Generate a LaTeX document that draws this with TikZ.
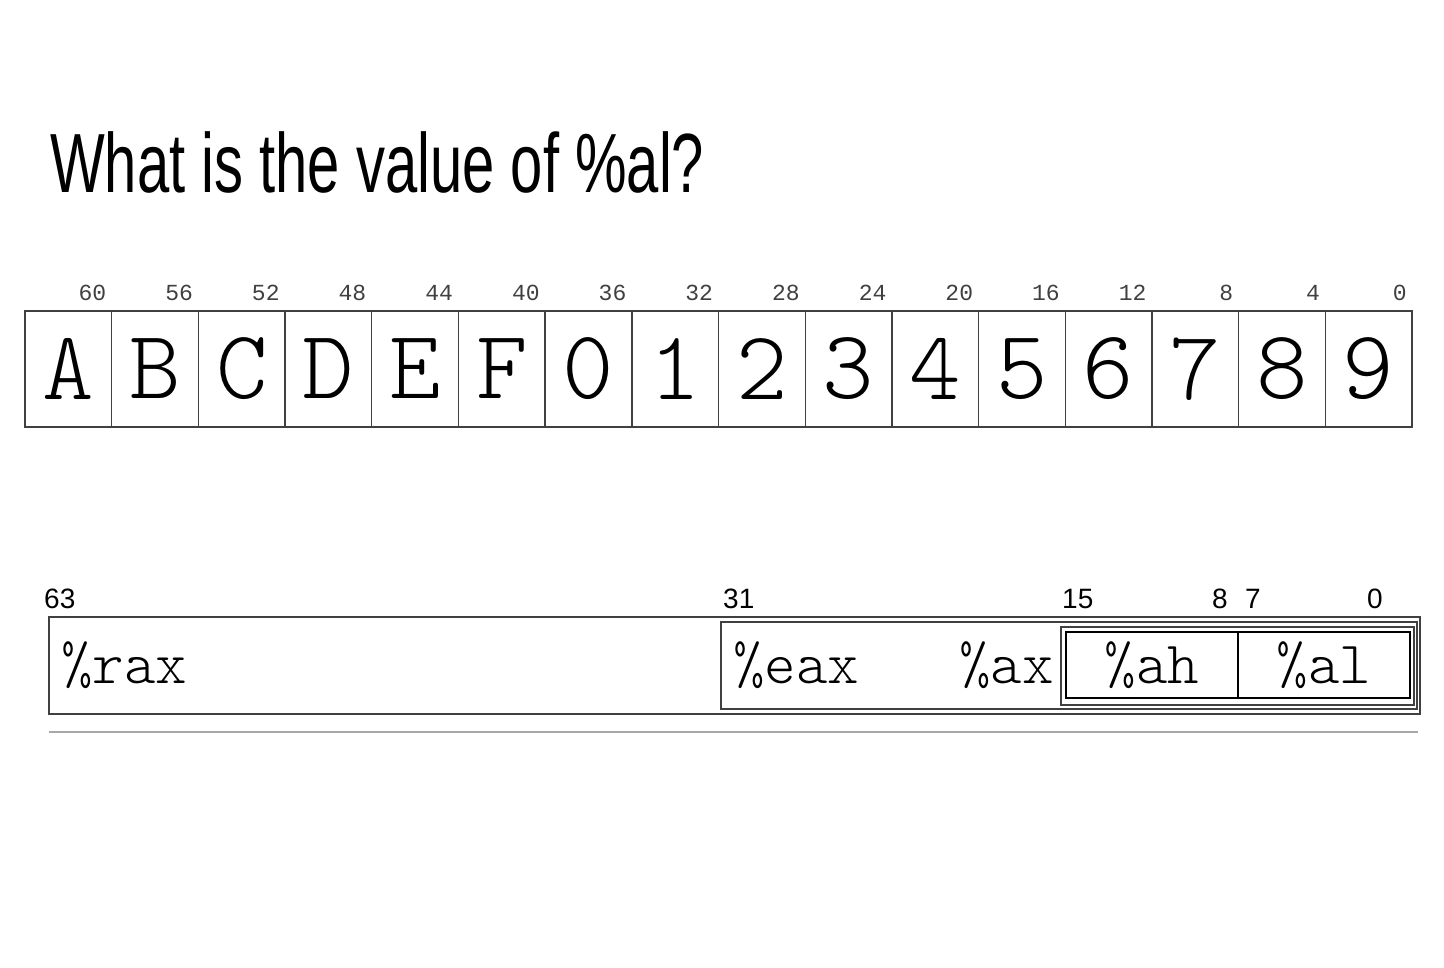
\documentclass[tikz,border=0pt]{standalone}
\usepackage{fontspec}
\usepackage{graphicx}
\setmainfont{Liberation Sans}
\newfontfamily\numfont{Liberation Mono}
\newfontfamily\typefont{lmmonolt10-regular.otf}
\usetikzlibrary{calc}
\usetikzlibrary{positioning}

\definecolor{linegray}{HTML}{404040}
\definecolor{rulegray}{HTML}{A8A8A8}

\tikzset{
  cell/.style={draw=linegray, line width=1.4pt, minimum width=86.69pt, minimum height=116pt, inner sep=0pt, font=\typefont\fontsize{98}{98}\selectfont},
  bitnum/.style={text=linegray, inner sep=0pt, font=\numfont\fontsize{23}{23}\selectfont},
  regbox/.style={draw=linegray, inner sep=0pt},
  regname/.style={inner sep=0pt, font=\typefont\fontsize{60}{60}\selectfont},
  regbit/.style={inner sep=0pt, anchor=base west, font=\fontsize{28}{28}\selectfont}
}

\begin{document}
\begin{tikzpicture}[x=1pt,y=-1pt]
    \useasboundingbox (0,0) rectangle (1444,968);

    % Title
    \node[anchor=base west, inner sep=0pt, font=\fontsize{84}{84}\selectfont] (title) at (50,193) {\scalebox{0.69}[1]{What is the value of \%al?}};

    % Nibbles of the value
    \foreach \v [count=\i from 0] in {A,B,C,D,E,F,0,1,2,3,4,5,6,7,8,9} {
        \pgfmathtruncatemacro{\bit}{60-4*\i}
        \node[cell] (c\i) at ({25+86.69*(\i+0.5)},369) {\v};
        \node[bitnum, anchor=base east] (n\i) at ($(c\i.north east)+(-6,-10)$) {\bit};
    }

    % Register boxes
    \node[regbox, line width=2.6pt, minimum width=1371pt, minimum height=97pt] (rax) at (734.5,665.5) {};
    \node[regbox, line width=2pt, minimum width=696pt, minimum height=87pt] (eax) at (1069,665.5) {};
    \node[regbox, line width=2pt, minimum width=353pt, minimum height=78pt] (ax) at (1237.5,666) {};
    \node[regbox, regname, draw=black, line width=2.4pt, minimum width=172pt, minimum height=66pt] (ah) at (1152,665) {\%ah};
    \node[regbox, regname, draw=black, line width=2.4pt, minimum width=172pt, minimum height=66pt] (al) at (1324,665) {\%al};

    % Register names
    \node[regname, anchor=base west] (trax) at (61,683) {\%rax};
    \node[regname, anchor=base west] (teax) at (733,683) {\%eax};
    \node[regname, anchor=base east] (tax) at (1054,683) {\%ax};

    % Bit positions
    \node[regbit] (b63) at (44,608) {63};
    \node[regbit] (b31) at (723,608) {31};
    \node[regbit] (b15) at (1062,608) {15};
    \node[regbit, anchor=base east] (b8) at (1228,608) {8};
    \node[regbit] (b7) at (1245,608) {7};
    \node[regbit] (b0) at (1367,608) {0};

    % Rule
    \coordinate (s1) at (49,732);
    \coordinate (s2) at (1418,732);
    \draw[rulegray, line width=1.5pt] (s1) -- (s2);
\end{tikzpicture}
\end{document}
